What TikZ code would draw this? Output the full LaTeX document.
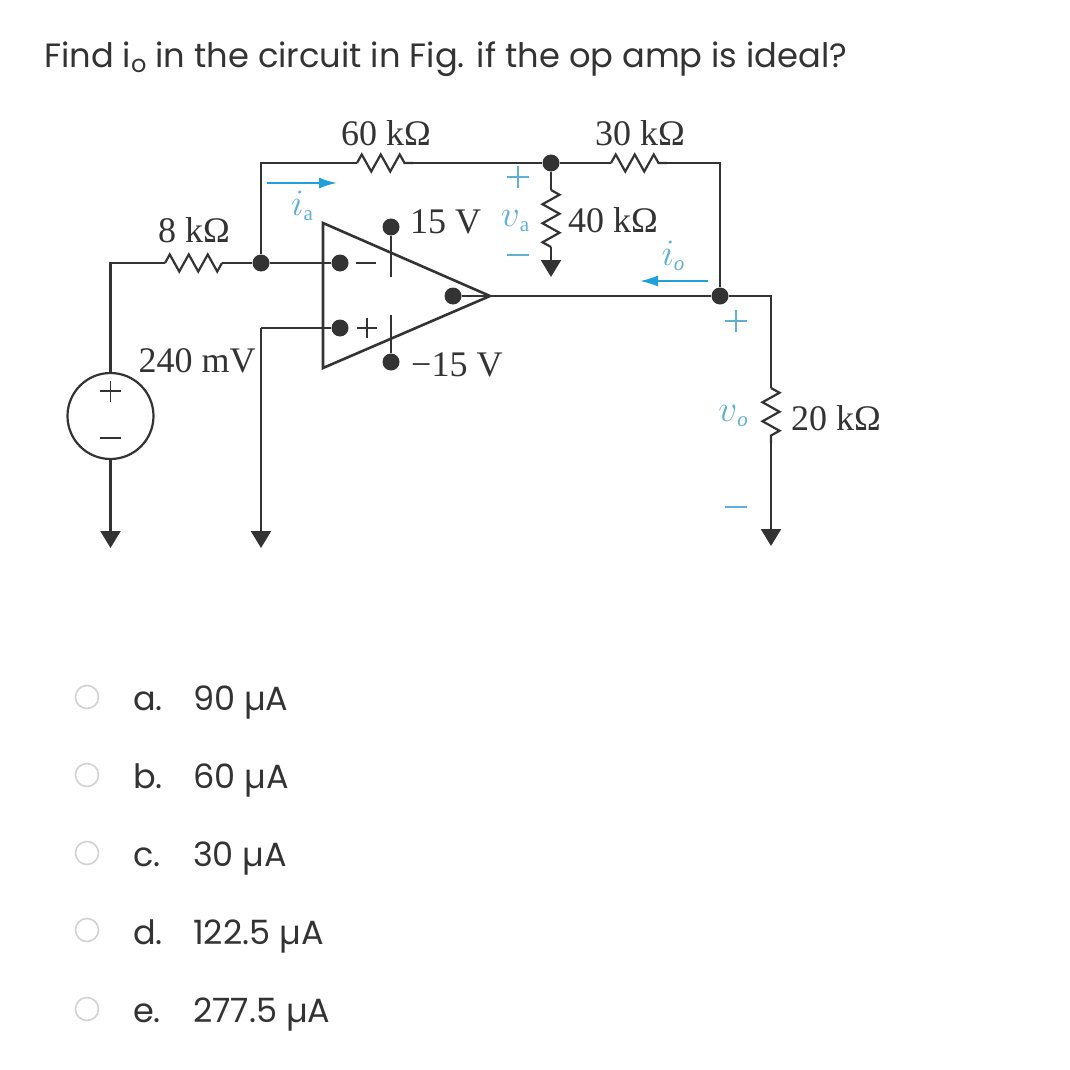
\documentclass[tikz,border=0pt]{standalone}
\usepackage{fontspec}
\setmainfont{Liberation Serif}
\newfontfamily\popfont{Poppins}
\usetikzlibrary{arrows.meta,decorations.pathmorphing}
\definecolor{ink}{HTML}{333333}
\definecolor{uitext}{HTML}{333333}
\definecolor{cblue}{HTML}{1FA0D8}
\definecolor{lblue}{HTML}{5FB0D2}
\definecolor{radio}{HTML}{D2D2D2}
\tikzset{
  wire/.style={draw=ink,line width=2.2pt,line join=miter},
  res/.style={wire,decorate,decoration={zigzag,segment length=19pt,amplitude=8.5pt}},
  gnd/.style={wire,-{Triangle[length=17pt,width=20pt,fill=ink]}},
  dot/.style={circle,fill=ink,inner sep=0pt,minimum size=17pt},
  val/.style={text=ink,inner sep=0pt,font=\fontsize{36}{36}\selectfont},
  bluelab/.style={text=lblue,inner sep=0pt,font=\fontsize{24}{24}\selectfont},
  sign/.style={draw=lblue,line width=1.6pt},
  cur/.style={draw=cblue,line width=1.8pt,-{Latex[length=18pt,width=11pt]}},
  title/.style={text=uitext,inner sep=0pt,anchor=base west,font=\popfont\fontsize{33.7}{34}\selectfont},
  opt/.style={text=uitext,inner sep=0pt,anchor=base west,font=\popfont\fontsize{33.5}{34}\selectfont},
  rad/.style={circle,draw=radio,line width=1.6pt,inner sep=0pt,minimum size=23pt},
}
\newcommand{\bigsym}[1]{\scalebox{1.5}{$#1$}}
\newcommand{\subup}[1]{\raisebox{-5pt}{\fontsize{21}{21}\selectfont #1}}
\newcommand{\subit}[1]{\raisebox{-5pt}{\fontsize{21}{21}\selectfont\itshape #1}}
\begin{document}
\begin{tikzpicture}[x=1pt,y=-1pt]
\useasboundingbox (0,0) rectangle (1069,1070);
\fill[white] (0,0) rectangle (1069,1070);
% title
\node[title] (q) at (44,68) {Find i\raisebox{-5pt}{\fontsize{24}{24}\selectfont o} in the circuit in Fig. if the op amp is ideal?};
% op amp body
\coordinate (oa1) at (323,223);
\coordinate (oa2) at (323,368);
\coordinate (oa3) at (490,296);
\draw[wire,line width=2.6pt] (oa1) -- (oa3) -- (oa2) -- cycle;
% nodes
\node[dot] (jin) at (261,263) {};
\node[dot] (jtop) at (551,163) {};
\node[dot] (jout) at (720,296) {};
\node[dot] (minus) at (340,263) {};
\node[dot] (plus) at (340,328) {};
\node[dot] (out) at (453,296) {};
\node[dot] (vp) at (391,227) {};
\node[dot] (vn) at (391,362) {};
\node[circle,draw=ink,line width=2.2pt,inner sep=0pt,minimum size=86pt] (src) at (110.5,416) {};
% corner and resistor end points
\coordinate (c8) at (110.5,263);
\coordinate (r8a) at (165,263);
\coordinate (r8b) at (222,263);
\coordinate (ctl) at (261,163);
\coordinate (r60a) at (357,163);
\coordinate (r60b) at (413,163);
\coordinate (r30a) at (611,163);
\coordinate (r30b) at (667,163);
\coordinate (ctr) at (720,163);
\coordinate (r40a) at (551,190);
\coordinate (r40b) at (551,247);
\coordinate (g40) at (551,277);
\coordinate (cor) at (771,296);
\coordinate (r20a) at (771,388);
\coordinate (r20b) at (771,443);
\coordinate (g20) at (771,546);
\coordinate (g1) at (110.5,548);
\coordinate (cp) at (261,328);
\coordinate (g2) at (261,548);
\coordinate (vpe) at (391,277);
\coordinate (vne) at (391,315);
% wiring
\draw[wire] (src.north) -- (c8) -- (r8a);
\draw[res] (r8a) -- (r8b);
\draw[wire] (r8b) -- (jin) -- (minus);
\draw[wire] (jin) -- (ctl) -- (r60a);
\draw[res] (r60a) -- (r60b);
\draw[wire] (r60b) -- (jtop) -- (r30a);
\draw[res] (r30a) -- (r30b);
\draw[wire] (r30b) -- (ctr) -- (jout);
\draw[wire] (jtop) -- (r40a);
\draw[res] (r40a) -- (r40b);
\draw[gnd] (r40b) -- (g40);
\draw[wire] (out) -- (oa3) -- (jout) -- (cor) -- (r20a);
\draw[res] (r20a) -- (r20b);
\draw[gnd] (r20b) -- (g20);
\draw[gnd] (src.south) -- (g1);
\draw[wire] (plus) -- (cp);
\draw[gnd] (cp) -- (g2);
\draw[wire] (vp) -- (vpe);
\draw[wire] (vn) -- (vne);
% op amp input signs
\draw[wire] (356,263) -- (376,263);
\draw[wire] (357,328) -- (377,328);
\draw[wire] (367,318) -- (367,338);
% source signs
\draw[draw=ink,line width=1.6pt] (100,391) -- (121,391);
\draw[draw=ink,line width=1.6pt] (110.5,381) -- (110.5,402);
\draw[draw=ink,line width=1.6pt] (100,438) -- (121,438);
% values
\node[val] (l60) at (386,133) {60 kΩ};
\node[val] (l30) at (640,133) {30 kΩ};
\node[val] (l8) at (194,230) {8 kΩ};
\node[val] (l240) at (197,361) {240 mV};
\node[val,anchor=west] (l15) at (410,222) {15 V};
\node[val,anchor=west] (lm15) at (411,365) {−15 V};
\node[val] (l40) at (613,220) {40 kΩ};
\node[val] (l20) at (836,418) {20 kΩ};
% blue annotations
\coordinate (ias) at (267,183);
\coordinate (iae) at (337,183);
\draw[cur] (ias) -- (iae);
\coordinate (ios) at (708,281);
\coordinate (ioe) at (640,281);
\draw[cur] (ios) -- (ioe);
\node[bluelab] (ia) at (302,206) {\bigsym{i}\subup{a}};
\node[bluelab] (io) at (673,256) {\bigsym{i}\subit{o}};
\node[bluelab] (va) at (515,221) {\bigsym{v}\subup{a}};
\node[bluelab] (vo) at (733,416) {\bigsym{v}\subit{o}};
\draw[sign] (507,177) -- (529,177) (518,166) -- (518,188);
\draw[sign] (507,255) -- (529,255);
\draw[sign] (725,321) -- (747,321) (736,310) -- (736,332);
\draw[sign] (725,507) -- (747,507);
% answers
\node[rad] (ra) at (87,697) {};
\node[rad] (rb) at (87,775) {};
\node[rad] (rc) at (87,853) {};
\node[rad] (rd) at (87,930) {};
\node[rad] (re) at (87,1009) {};
\node[opt] (a1) at (133,710) {a.};
\node[opt] (a2) at (193,710) {90 µA};
\node[opt] (b1) at (133,788) {b.};
\node[opt] (b2) at (193,788) {60 µA};
\node[opt] (c1) at (133,866) {c.};
\node[opt] (c2) at (193,866) {30 µA};
\node[opt] (d1) at (133,944) {d.};
\node[opt] (d2) at (193,944) {122.5 µA};
\node[opt] (e1) at (133,1022) {e.};
\node[opt] (e2) at (193,1022) {277.5 µA};
\end{tikzpicture}
\end{document}
